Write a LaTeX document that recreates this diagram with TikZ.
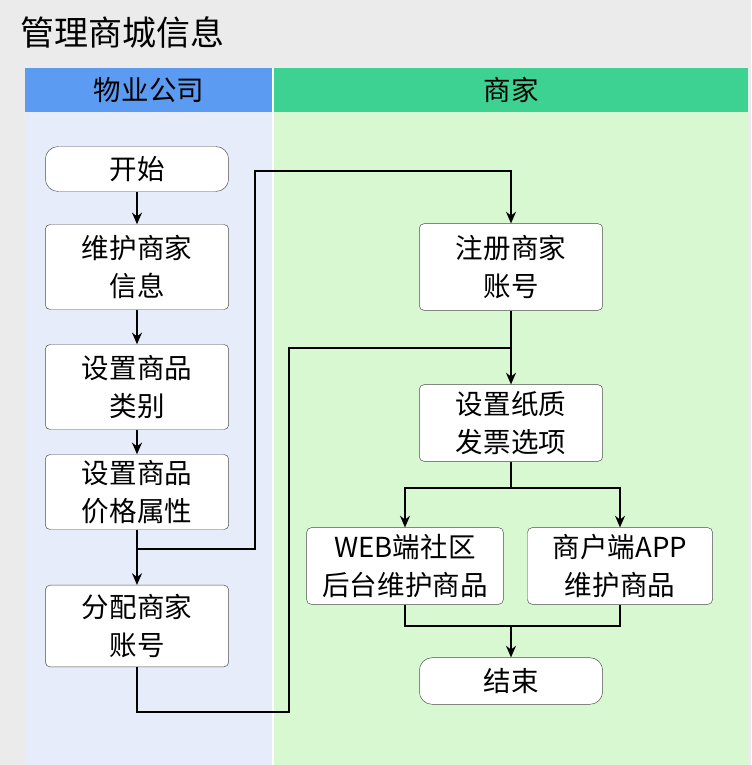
\documentclass[tikz,border=0pt]{standalone}
\usepackage{fontspec}
\setmainfont{Noto Sans CJK SC}
\usetikzlibrary{arrows.meta,positioning}

\definecolor{pagegray}{HTML}{EBEBEB}
\definecolor{leftbg}{HTML}{E6ECFA}
\definecolor{lefthead}{HTML}{5C9BF2}
\definecolor{rightbg}{HTML}{D8F8D2}
\definecolor{righthead}{HTML}{3DD292}

\tikzset{
  procbox/.style={draw=black!70, fill=white, rounded corners=4pt, align=center,
    font=\fontsize{23.5}{33}\selectfont, inner sep=0pt},
  termbox/.style={procbox, rounded corners=11pt},
  flow/.style={line width=1.4pt, -{Stealth[length=3.5mm,width=3mm]}},
  line/.style={line width=1.4pt}
}

\begin{document}
\begin{tikzpicture}[x=0.03cm,y=-0.03cm]
    % Background and lanes
    \fill[pagegray] (0,0) rectangle (751,765);
    \useasboundingbox (0,0) rectangle (751,765);
    \fill[leftbg] (25,112) rectangle (273,765);
    \fill[rightbg] (273,112) rectangle (748,765);
    \fill[lefthead] (25,68) rectangle (273,112);
    \fill[righthead] (273,68) rectangle (748,112);
    \draw[white, very thick] (273,68) -- (273,765);
    \node[anchor=west, font=\fontsize{29}{33}\selectfont] (title) at (16,32) {管理商城信息};
    \node[font=\fontsize{23.5}{33}\selectfont] (lanea) at (149,90) {物业公司};
    \node[font=\fontsize{23.5}{33}\selectfont] (laneb) at (511,90) {商家};

    % Left lane steps
    \node[termbox, minimum width=5.5cm, minimum height=1.35cm] (start) at (137,169) {开始};
    \node[procbox, minimum width=5.5cm, minimum height=2.55cm] (keep) at (137,267) {维护商家\\信息};
    \node[procbox, minimum width=5.5cm, minimum height=2.55cm] (cat) at (137,387) {设置商品\\类别};
    \node[procbox, minimum width=5.5cm, minimum height=2.25cm] (price) at (137,492) {设置商品\\价格属性};
    \node[procbox, minimum width=5.5cm, minimum height=2.45cm] (assign) at (137,626) {分配商家\\账号};

    % Right lane steps
    \node[procbox, minimum width=5.5cm, minimum height=2.6cm] (reg) at (511,267) {注册商家\\账号};
    \node[procbox, minimum width=5.5cm, minimum height=2.3cm] (invoice) at (511,423) {设置纸质\\发票选项};
    \node[procbox, minimum width=5.9cm, minimum height=2.3cm] (web) at (405,566) {WEB端社区\\后台维护商品};
    \node[procbox, minimum width=5.55cm, minimum height=2.3cm] (app) at (620,566) {商户端APP\\维护商品};
    \node[termbox, minimum width=5.5cm, minimum height=1.4cm] (finish) at (511,681) {结束};

    % Junction points
    \coordinate (j1) at (137,549);
    \coordinate (j2) at (511,348);
    \coordinate (j3) at (511,488);
    \coordinate (j4) at (511,626);

    % Connectors
    \draw[flow] (start) -- (keep);
    \draw[flow] (keep) -- (cat);
    \draw[flow] (cat) -- (price);
    \draw[flow] (price) -- (assign);
    \draw[flow] (j1) -- (255,549) -- (255,171) -- (511,171) -- (reg.north);
    \draw[flow] (reg) -- (invoice);
    \draw[line] (assign.south) -- (137,712) -- (289,712) -- (289,348) -- (j2);
    \draw[line] (invoice.south) -- (j3);
    \draw[flow] (j3) -| (web.north);
    \draw[flow] (j3) -| (app.north);
    \draw[line] (web.south) |- (j4);
    \draw[line] (app.south) |- (j4);
    \draw[flow] (j4) -- (finish);
\end{tikzpicture}
\end{document}
